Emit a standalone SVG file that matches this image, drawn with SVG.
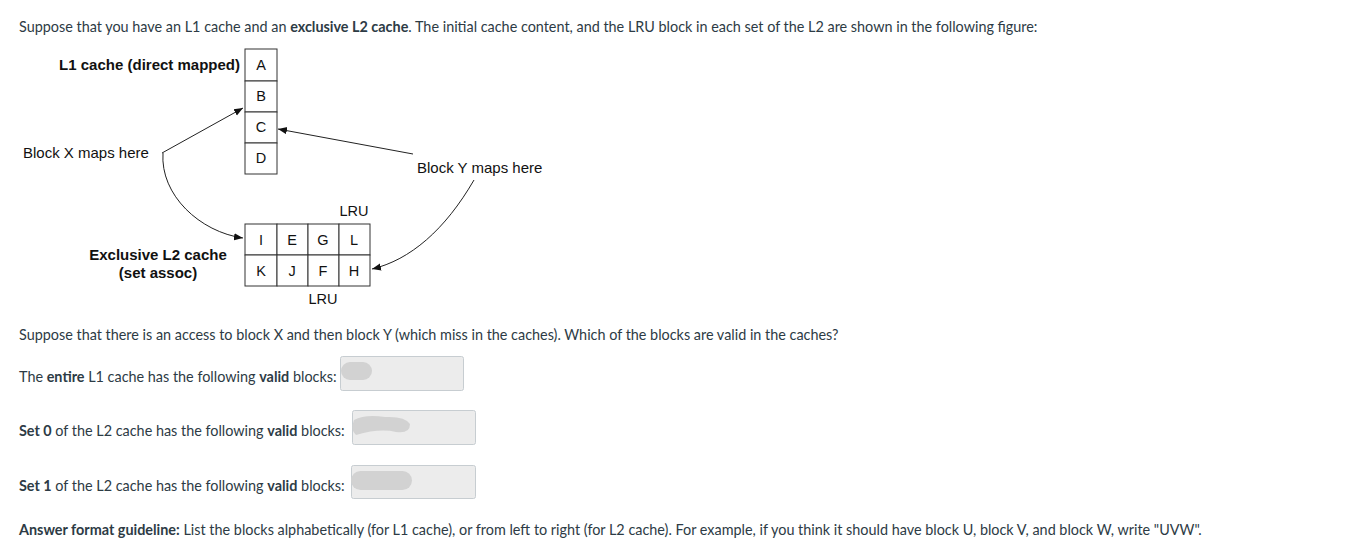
<svg xmlns="http://www.w3.org/2000/svg" width="1370" height="559" viewBox="0 0 1370 559">
<defs>
<style>
.q{font-family:Lato,"Open Sans",sans-serif;font-size:14.4px;fill:#2d3b45}
.b{font-weight:bold}
.d{font-family:"Liberation Sans",Arial,sans-serif;font-size:15px;fill:#111}
.c{font-family:"Liberation Sans",Arial,sans-serif;font-size:14.5px;fill:#111;text-anchor:middle}
.cell{fill:#fff;stroke:#333;stroke-width:1}
.con{fill:none;stroke:#222;stroke-width:1}
.box{fill:#ececec;stroke:#c7cdd1;stroke-width:1}
.blob{fill:#d2d2d2}
</style>
<marker id="ah" viewBox="0 0 10 10" refX="10" refY="5" markerWidth="9" markerHeight="9" markerUnits="userSpaceOnUse" orient="auto">
<path d="M0,1 L10,5 L0,9 z" fill="#111"/>
</marker>
</defs>
<rect width="1370" height="559" fill="#fff"/>
<text class="q" x="19" y="32">Suppose that you have an L1 cache and an <tspan class="b">exclusive L2 cache</tspan>. The initial cache content, and the LRU block in each set of the L2 are shown in the following figure:</text>

<g id="l1cache">
<text class="d b" x="240" y="70" text-anchor="end">L1 cache (direct mapped)</text>
<rect class="cell" x="245" y="49" width="32" height="32"/>
<rect class="cell" x="245" y="81" width="32" height="31"/>
<rect class="cell" x="245" y="112" width="32" height="31"/>
<rect class="cell" x="245" y="143" width="32" height="31"/>
<text class="c" x="261" y="70">A</text>
<text class="c" x="261" y="101">B</text>
<text class="c" x="261" y="132">C</text>
<text class="c" x="261" y="163">D</text>
</g>

<g id="l2cache">
<text class="d b" x="158" y="260" text-anchor="middle">Exclusive L2 cache</text>
<text class="d b" x="158" y="278" text-anchor="middle">(set assoc)</text>
<rect class="cell" x="245" y="224" width="32" height="31"/>
<rect class="cell" x="277" y="224" width="31" height="31"/>
<rect class="cell" x="308" y="224" width="31" height="31"/>
<rect class="cell" x="339" y="224" width="31" height="31"/>
<rect class="cell" x="245" y="255" width="32" height="31"/>
<rect class="cell" x="277" y="255" width="31" height="31"/>
<rect class="cell" x="308" y="255" width="31" height="31"/>
<rect class="cell" x="339" y="255" width="31" height="31"/>
<text class="c" x="261" y="245">I</text>
<text class="c" x="292" y="245">E</text>
<text class="c" x="323" y="245">G</text>
<text class="c" x="354" y="245">L</text>
<text class="c" x="261" y="276">K</text>
<text class="c" x="292" y="276">J</text>
<text class="c" x="323" y="276">F</text>
<text class="c" x="354" y="276">H</text>
<text class="c" x="354" y="216">LRU</text>
<text class="c" x="323" y="304">LRU</text>
</g>

<g id="labelX"><text class="d" x="23" y="158">Block X maps here</text></g>
<g id="labelY"><text class="d" x="417" y="173">Block Y maps here</text></g>

<g id="connectors">
<path class="con" d="M162,153 L243,108" marker-end="url(#ah)"/>
<path class="con" d="M163,153 C160,195 200,232 243,238" marker-end="url(#ah)"/>
<path class="con" d="M413,154 L278,129" marker-end="url(#ah)"/>
<path class="con" d="M474,180 C445,230 410,260 372,269" marker-end="url(#ah)"/>
</g>

<text class="q" x="19" y="340">Suppose that there is an access to block X and then block Y (which miss in the caches). Which of the blocks are valid in the caches?</text>

<g id="q1">
<text class="q" x="19" y="382">The <tspan class="b">entire</tspan> L1 cache has the following <tspan class="b">valid</tspan> blocks:</text>
<rect class="box" x="340.5" y="356.5" width="123" height="34" rx="2"/>
<rect class="blob" x="341" y="362" width="31" height="18" rx="9"/>
</g>
<g id="q2">
<text class="q" x="19" y="436"><tspan class="b">Set 0</tspan> of the L2 cache has the following <tspan class="b">valid</tspan> blocks:</text>
<rect class="box" x="352.5" y="410.5" width="123" height="34" rx="2"/>
<path class="blob" d="M354,420 Q365,414 385,417 Q405,416 410,424 Q410,434 396,432 Q380,428 356,435 Q350,430 354,420 z"/>
</g>
<g id="q3">
<text class="q" x="19" y="491"><tspan class="b">Set 1</tspan> of the L2 cache has the following <tspan class="b">valid</tspan> blocks:</text>
<rect class="box" x="351.5" y="465.5" width="124" height="33" rx="2"/>
<rect class="blob" x="351" y="471" width="61" height="19" rx="9.5"/>
</g>

<text class="q" x="19" y="535"><tspan class="b">Answer format guideline:</tspan> List the blocks alphabetically (for L1 cache), or from left to right (for L2 cache). For example, if you think it should have block U, block V, and block W, write "UVW".</text>
</svg>
